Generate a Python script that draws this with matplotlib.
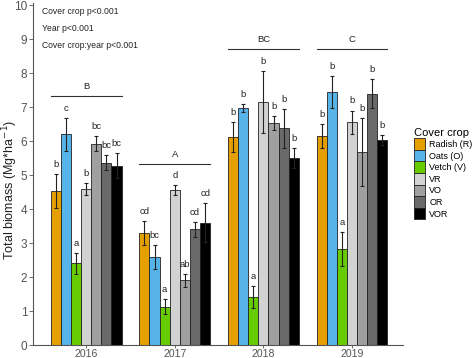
import numpy as np
import matplotlib
matplotlib.use('Agg')
import matplotlib.pyplot as plt
from matplotlib.patches import Patch

plt.rcParams['font.family'] = ['Liberation Sans', 'DejaVu Sans']

# data
years = ['2016', '2017', '2018', '2019']
crops = ['Radish (R)', 'Oats (O)', 'Vetch (V)', 'VR', 'VO', 'OR', 'VOR']
colors = ['#E69F00', '#56B4E9', '#66CC00', '#D2D2D2', '#A0A0A0', '#696969', '#000000']

means = {
    '2016': [4.52, 6.2, 2.4, 4.6, 5.92, 5.36, 5.28],
    '2017': [3.3, 2.6, 1.13, 4.55, 1.9, 3.4, 3.6],
    '2018': [6.12, 6.97, 1.42, 7.15, 6.53, 6.38, 5.5],
    '2019': [6.15, 7.44, 2.82, 6.55, 5.67, 7.4, 6.03],
}
errs = {
    '2016': [0.5, 0.48, 0.3, 0.18, 0.22, 0.22, 0.38],
    '2017': [0.35, 0.35, 0.22, 0.15, 0.18, 0.22, 0.58],
    '2018': [0.45, 0.12, 0.33, 0.92, 0.2, 0.57, 0.3],
    '2019': [0.36, 0.48, 0.5, 0.35, 1.0, 0.44, 0.15],
}
letters = {
    '2016': ['b', 'c', 'a', 'b', 'bc', 'bc', 'bc'],
    '2017': ['cd', 'bc', 'a', 'd', 'ab', 'cd', 'cd'],
    '2018': ['b', 'b', 'a', 'b', 'b', 'b', 'b'],
    '2019': ['b', 'b', 'a', 'b', 'b', 'b', 'b'],
}
year_letters = ['B', 'A', 'BC', 'C']
year_line_y = [7.32, 5.32, 8.72, 8.72]
stats_text = ['Cover crop p<0.001', 'Year p<0.001', 'Cover crop:year p<0.001']

fig = plt.figure(figsize=(4.74, 3.58), dpi=100)
ax = fig.add_axes([0.0696, 0.0363, 0.7806, 0.955])

w = 0.8 / len(crops)
x = np.arange(1, len(years) + 1)
for j, yr in enumerate(years):
    for i in range(len(crops)):
        xc = x[j] + (i - 3) * w
        m = means[yr][i]
        e = errs[yr][i]
        ax.bar(xc, m, width=w, color=colors[i], edgecolor='#222222', linewidth=0.6)
        ax.errorbar(xc, m, yerr=e, fmt='none', ecolor='#222222', elinewidth=0.8,
                    capsize=1.2, capthick=0.8)
        ax.text(xc, m + e + 0.28, letters[yr][i], ha='center', va='center',
                fontsize=6.8, color='#222222')
    ax.plot([x[j] - 0.4, x[j] + 0.4], [year_line_y[j]] * 2, color='#333333', lw=0.8)
    ax.text(x[j], year_line_y[j] + 0.28, year_letters[j], ha='center', va='center',
            fontsize=6.8, color='#222222')

for k, s in enumerate(stats_text):
    ax.text(0.5, 9.8 - 0.49 * k, s, ha='left', va='center', fontsize=6.2, color='#222222')

ax.set_xlim(0.4, 4.575)
ax.set_ylim(0, 10.06)
ax.set_xticks(x)
ax.set_xticklabels(years)
ax.set_yticks(range(0, 11))
ax.tick_params(axis='both', labelcolor='#555555', color='#555555', width=0.6)
ax.tick_params(axis='x', labelsize=7.6, length=2.5, pad=0.3)
ax.tick_params(axis='y', labelsize=8.5, length=3, pad=1)
for sp in ['top', 'right']:
    ax.spines[sp].set_visible(False)
for sp in ['left', 'bottom']:
    ax.spines[sp].set_color('#555555')
    ax.spines[sp].set_linewidth(0.8)
ax.set_ylabel('Total biomass (Mg*ha$^{-1}$)', fontsize=9, color='#222222')
ax.yaxis.set_label_coords(-0.034, 0.455)

handles = [Patch(facecolor=c, edgecolor='#222222', linewidth=0.6) for c in colors]
fig.legend(handles, crops, loc='upper left', bbox_to_anchor=(0.874, 0.642),
           frameon=False, fontsize=6.5, title='Cover crop', title_fontsize=8,
           alignment='left', handlelength=1.15, handleheight=1.6, labelspacing=0,
           handletextpad=0.5, borderpad=0, borderaxespad=0)

fig.savefig('out.png', dpi=100)
